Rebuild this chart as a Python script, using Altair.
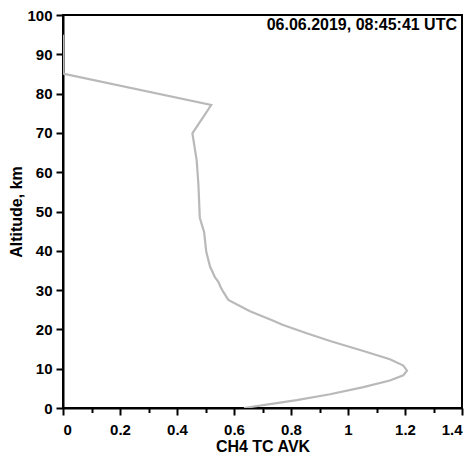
import altair as alt
import pandas as pd

altitude_km = [0, 0.75, 2.0, 3.5, 5.3, 7.0, 8.3, 9.5, 10.8, 12.4, 14.5, 17.0, 19.0,
               21.2, 22.2, 24.6, 27.5, 29.6, 30.8, 32.1, 33.3, 36.0, 39.6, 44.8, 48.4, 57.0,
               63.0, 69.9, 77.1, 85.1, 95.0]
avk = [0.635, 0.703, 0.82, 0.937, 1.054, 1.147, 1.194, 1.207, 1.194, 1.147, 1.054, 0.94, 0.855,
       0.77, 0.738, 0.656, 0.58, 0.562, 0.553, 0.545, 0.533, 0.516, 0.503, 0.495, 0.48, 0.475,
       0.469, 0.454, 0.52, 0.0, 0.0]
x_ticks = [round(i * 0.1, 1) for i in range(15)]
y_ticks = list(range(0, 101, 10))
stamp = "06.06.2019, 08:45:41 UTC"

df = pd.DataFrame({"alt": altitude_km, "avk": avk})

FONT = "Liberation Sans"

line = alt.Chart(df).mark_line(color="#b9b9b9", strokeWidth=2.2, clip=True).encode(
    x=alt.X("avk:Q", scale=alt.Scale(domain=[0, 1.4], nice=False),
            axis=alt.Axis(values=x_ticks, title="CH4 TC AVK", grid=False,
                          labelExpr="round(datum.value*10) % 2 === 0 ? '' + round(datum.value*10)/10 : ''",
                          tickSize={"condition": {"test": "round(datum.value*10) % 2 === 0", "value": 7}, "value": 4.5},
                          labelPadding=7, titlePadding=1)),
    y=alt.Y("alt:Q", scale=alt.Scale(domain=[0, 100], nice=False),
            axis=alt.Axis(values=y_ticks, title="Altitude, km", grid=False, tickSize=7,
                          labelPadding=4, titlePadding=2)),
    order=alt.Order("alt:Q"),
)

label = alt.Chart(pd.DataFrame({"t": [stamp]})).mark_text(
    align="right", baseline="alphabetic", fontSize=16, fontWeight="bold", font=FONT, color="black"
).encode(text="t:N", x=alt.value(394), y=alt.value(15))

chart = (line + label).properties(
    width=399, height=393,
    background="white",
    autosize=alt.AutoSizeParams(type="none"),
    padding={"left": 55, "top": 7, "right": 4, "bottom": 51},
).configure_view(stroke="black", strokeWidth=2).configure_axis(
    domainColor="black", domainWidth=2, tickColor="black", tickWidth=2,
    labelFont=FONT, labelFontSize=15, labelFontWeight="bold", labelColor="black",
    titleFont=FONT, titleFontSize=16, titleFontWeight="bold", titleColor="black",
)

chart.save("out.html", embed_options={"renderer": "svg", "actions": False})
